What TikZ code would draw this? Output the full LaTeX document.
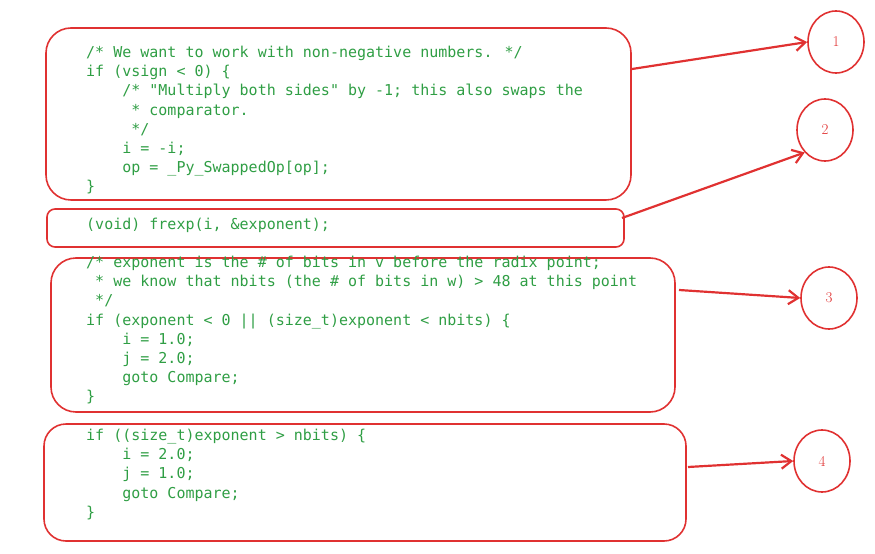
\documentclass[tikz,border=0pt]{standalone}
\usepackage{fontspec}
\newfontfamily\codefont[Ligatures=NoCommon]{DejaVu Sans Mono}
\usetikzlibrary{arrows.meta}
\definecolor{cg}{HTML}{2F9E44}
\definecolor{cr}{HTML}{E03131}
\newcommand{\ind}{\phantom{xxxx}}
\tikzset{
  box/.style={draw=cr,line width=1.6pt},
  code/.style={anchor=north west,inner sep=0pt,align=left,text=cg,font=\codefont\fontsize{15bp}{19.2bp}\selectfont},
  num/.style={draw=cr,line width=1.6pt,ellipse,minimum width=56bp,minimum height=62bp,text=cr,font=\fontsize{15bp}{18bp}\selectfont},
  arr/.style={draw=cr,line width=2.2pt,-{Straight Barb[length=10bp,width=14bp]}}
}
\usetikzlibrary{shapes.geometric}
\begin{document}
\begin{tikzpicture}[x=1bp,y=-1bp]
\useasboundingbox (0,0) rectangle (875,554);
\draw[box,rounded corners=25bp] (46,28) rectangle (631,200);
\draw[box,rounded corners=8bp] (47,209) rectangle (624,247);
\draw[box,rounded corners=25bp] (51,258) rectangle (675,412);
\draw[box,rounded corners=22bp] (44,424) rectangle (686,541);
\node[code] (c1) at (86,46) {/* We want to work with non-negative numbers. */\\
if (vsign < 0) \{\\
\ind/* "Multiply both sides" by -1; this also swaps the\\
\ind{} * comparator.\\
\ind{} */\\
\ind i = -i;\\
\ind op = \_Py\_SwappedOp[op];\\
\}};
\node[code] (c2) at (86,218) {(void) frexp(i, \&exponent);};
\node[code] (c3) at (86,256) {/* exponent is the \# of bits in v before the radix point;\\
{} * we know that nbits (the \# of bits in w) > 48 at this point\\
{} */\\
if (exponent < 0 || (size\_t)exponent < nbits) \{\\
\ind i = 1.0;\\
\ind j = 2.0;\\
\ind goto Compare;\\
\}};
\node[code] (c4) at (86,429) {if ((size\_t)exponent > nbits) \{\\
\ind i = 2.0;\\
\ind j = 1.0;\\
\ind goto Compare;\\
\}};
\node[num] (n1) at (836,42) {1};
\node[num] (n2) at (825,130) {2};
\node[num] (n3) at (829,298) {3};
\node[num] (n4) at (822,461) {4};
\coordinate (s1) at (632,69);
\coordinate (s2) at (622,218);
\coordinate (s3) at (679,290);
\coordinate (s4) at (688,467);
\draw[arr] (s1) -- (n1.west);
\draw[arr] (s2) -- (n2.south west);
\draw[arr] (s3) -- (n3.west);
\draw[arr] (s4) -- (n4.west);
\end{tikzpicture}
\end{document}
